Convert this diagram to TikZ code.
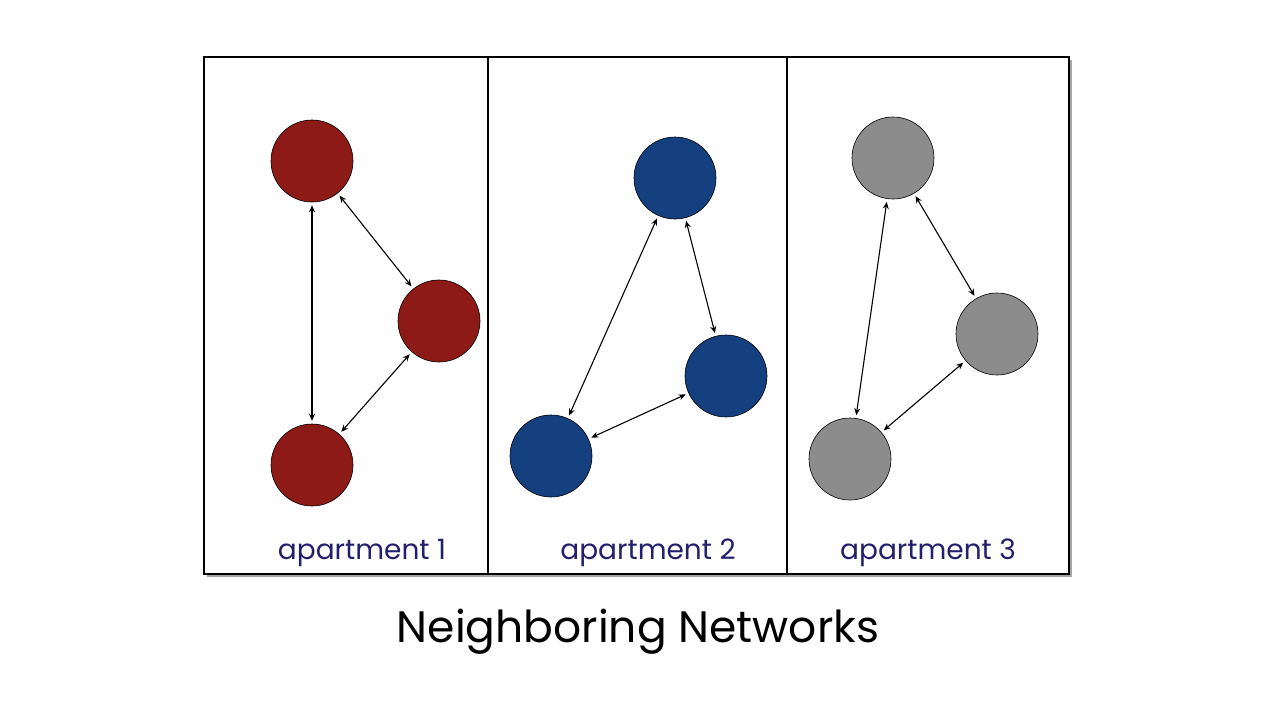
\documentclass[tikz,border=0pt]{standalone}
\usepackage{fontspec}
\setmainfont{Poppins}
\usetikzlibrary{arrows.meta,shadows}
\definecolor{cred}{HTML}{8E1A17}
\definecolor{cblue}{HTML}{15407F}
\definecolor{cgray}{HTML}{8C8C8C}
\definecolor{clab}{HTML}{22206E}
\begin{document}
\begin{tikzpicture}[x=1pt,y=-1pt,
  dot/.style={circle,draw=black,line width=0.6pt,minimum size=82pt,inner sep=0pt},
  link/.style={{Stealth[length=7pt,width=6pt]}-{Stealth[length=7pt,width=6pt]},line width=1.1pt,shorten <=3pt,shorten >=3pt},
  lab/.style={text=clab,font=\fontsize{28}{30}\selectfont\addfontfeature{FakeBold=0}}]
\useasboundingbox (0,0) rectangle (1280,720);
\fill[black!35] (207,60) rectangle (1072,577);
\draw[line width=1.4pt,fill=white] (204,57) rectangle (1069,574);
\draw[line width=1.4pt] (488,57) -- (488,574);
\draw[line width=1.4pt] (787,57) -- (787,574);
\node[dot,fill=cred] (a1) at (312,161) {};
\node[dot,fill=cred] (a2) at (439,321) {};
\node[dot,fill=cred] (a3) at (312,465) {};
\node[dot,fill=cblue] (b1) at (675,178) {};
\node[dot,fill=cblue] (b2) at (726,376) {};
\node[dot,fill=cblue] (b3) at (551,456) {};
\node[dot,fill=cgray] (c1) at (893,158) {};
\node[dot,fill=cgray] (c2) at (997,334) {};
\node[dot,fill=cgray] (c3) at (850,459) {};
\draw[link] (a1) -- (a3); \draw[link] (a1) -- (a2); \draw[link] (a2) -- (a3);
\draw[link] (b1) -- (b3); \draw[link] (b1) -- (b2); \draw[link] (b2) -- (b3);
\draw[link] (c1) -- (c3); \draw[link] (c1) -- (c2); \draw[link] (c2) -- (c3);
\node[lab] (l1) at (362,553) {apartment 1};
\node[lab] (l2) at (648,553) {apartment 2};
\node[lab] (l3) at (928,553) {apartment 3};
\node[font=\fontsize{44}{48}\selectfont] (t) at (638,632) {Neighboring Networks};
\end{tikzpicture}
\end{document}
